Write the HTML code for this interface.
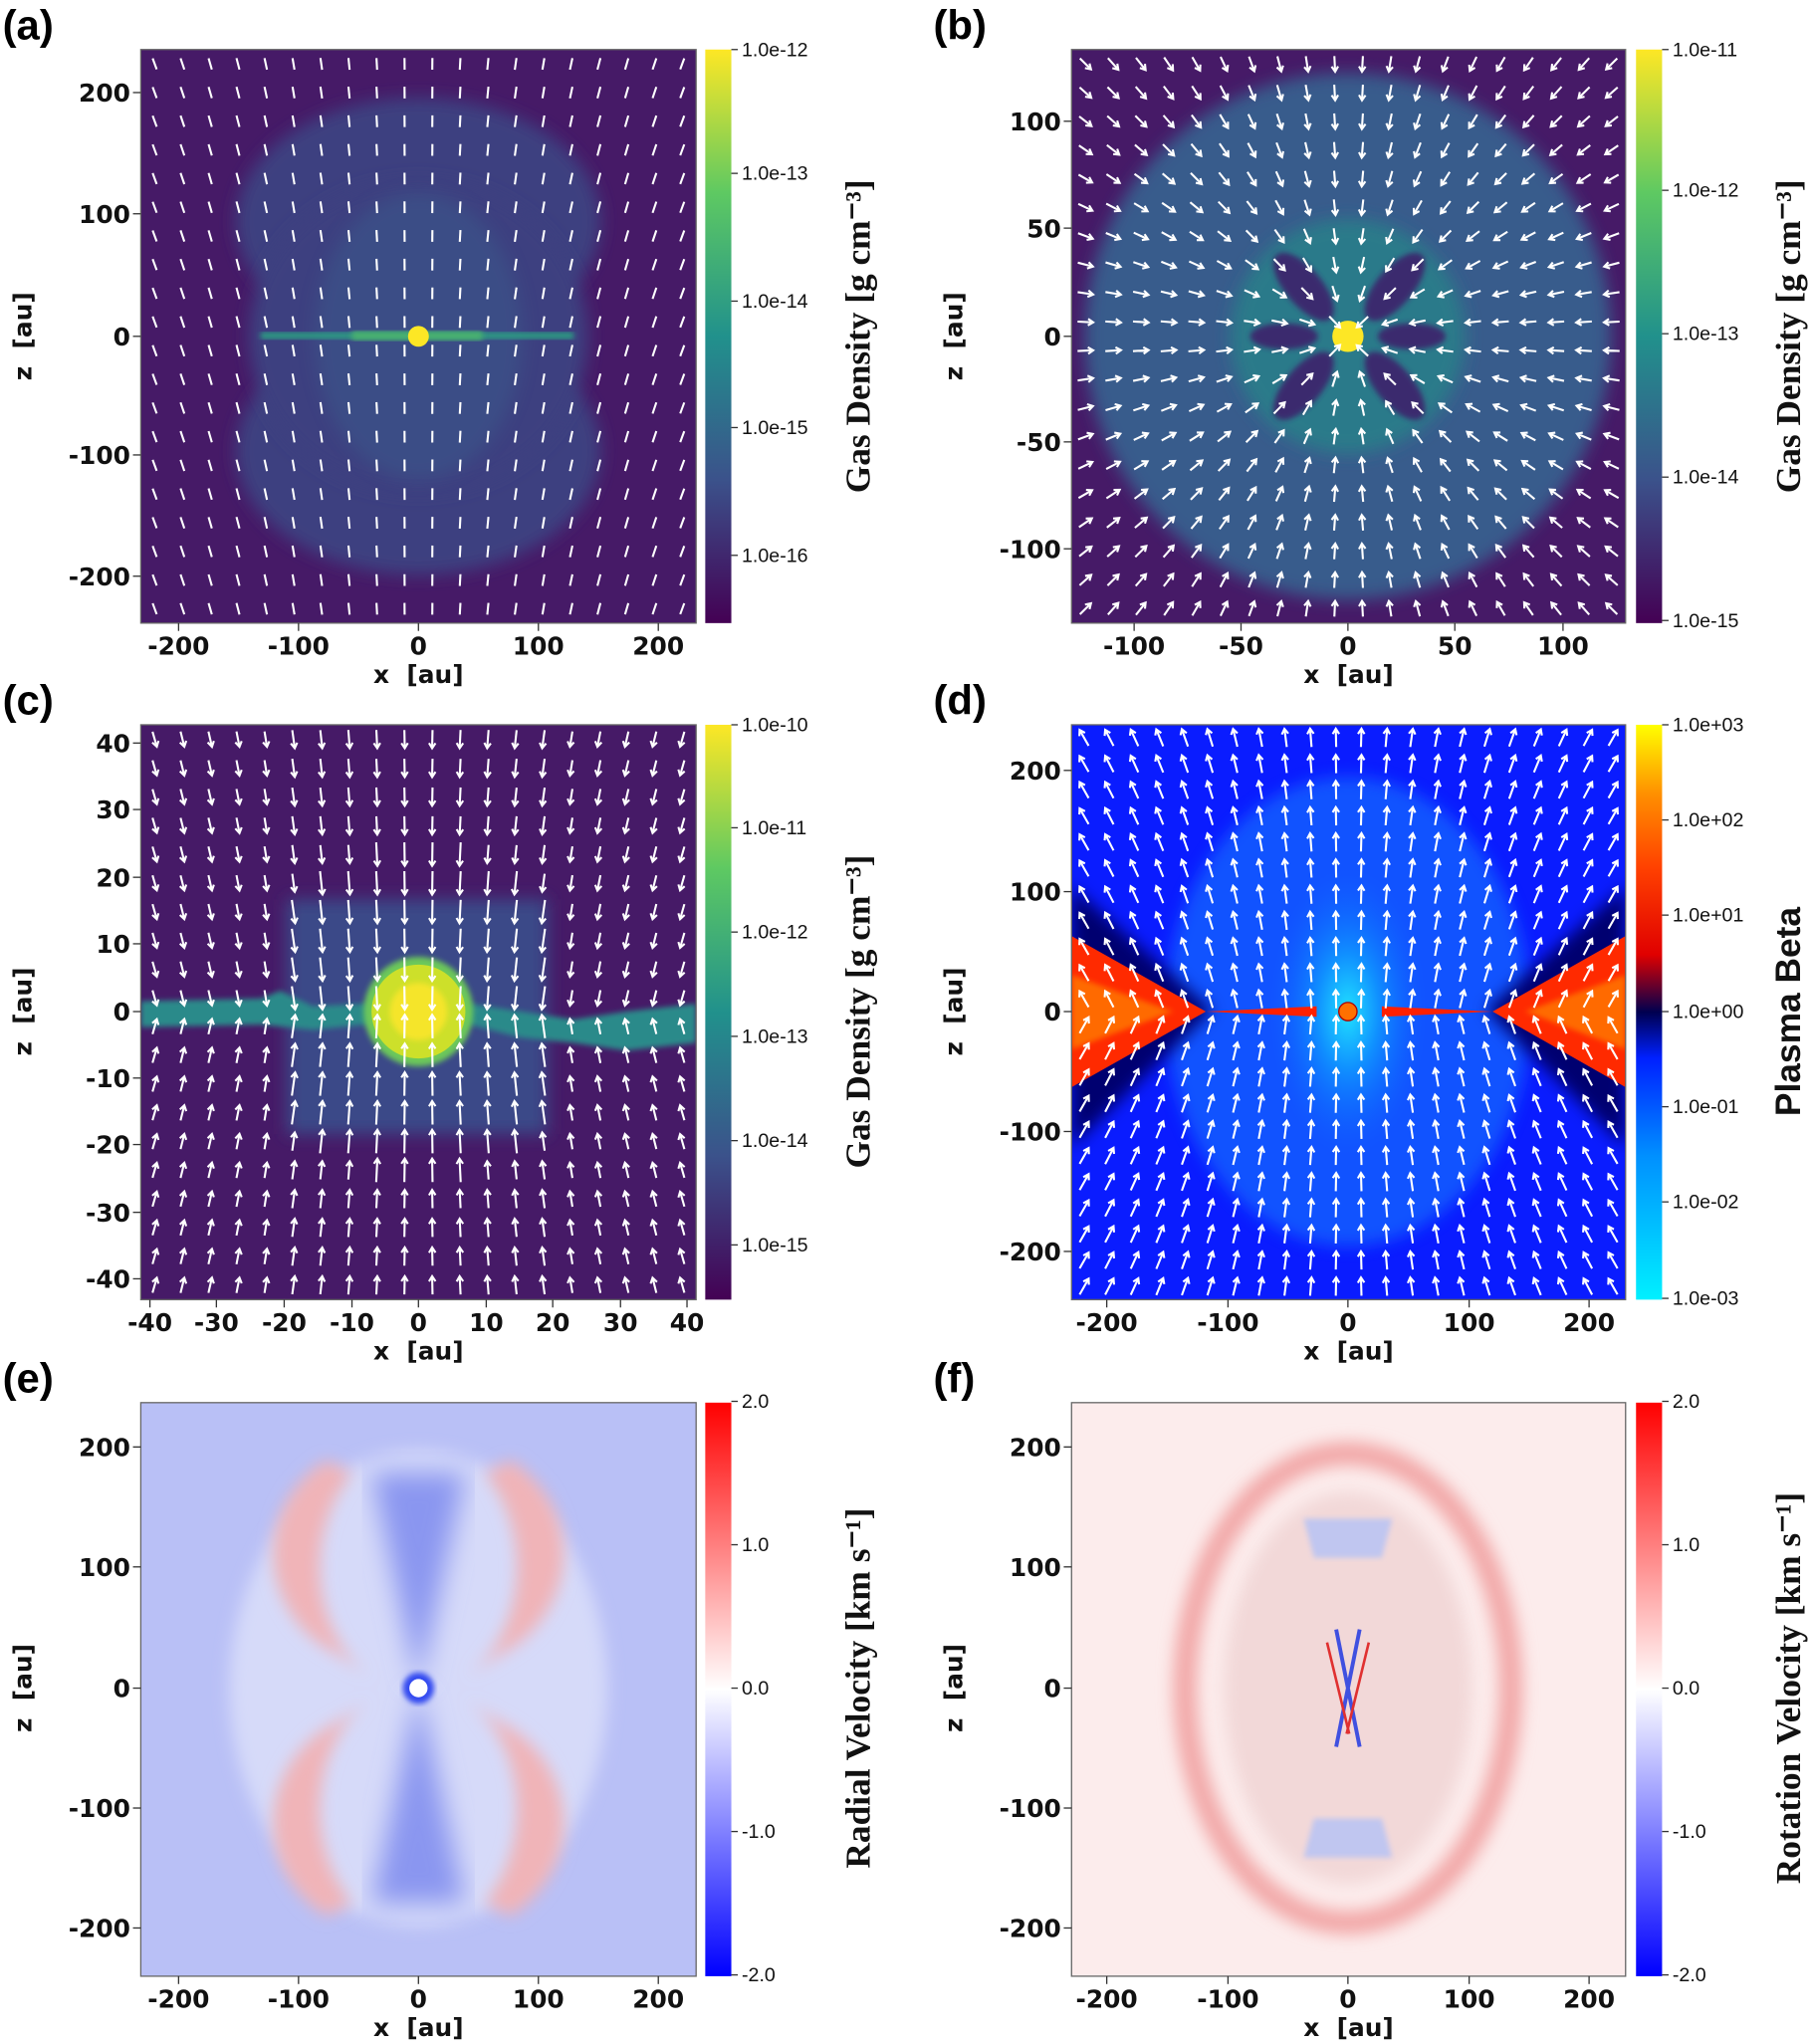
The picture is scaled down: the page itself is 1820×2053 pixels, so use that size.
<!DOCTYPE html>
<html><head><meta charset="utf-8"><style>
html,body{margin:0;padding:0;background:#fff;}
svg{display:block;}
.t{font-family:"DejaVu Sans","Liberation Sans",sans-serif;font-weight:bold;font-size:19px;fill:#111;white-space:pre;}
.cb{font-family:"Liberation Sans",sans-serif;font-size:15px;fill:#111;}
.cl{font-family:"Liberation Serif",serif;font-weight:bold;font-size:27px;fill:#111;}
.pl{font-family:"Liberation Sans",sans-serif;font-weight:bold;font-size:32px;fill:#000;}
</style></head><body>
<svg id="s" width="1820" height="2053" viewBox="0 0 1390 1568" preserveAspectRatio="none" xmlns="http://www.w3.org/2000/svg">
<defs>
<linearGradient id="vir" x1="0" y1="1" x2="0" y2="0">
<stop offset="0" stop-color="#440154"/><stop offset="0.25" stop-color="#3b528b"/><stop offset="0.5" stop-color="#21918c"/><stop offset="0.75" stop-color="#5ec962"/><stop offset="1" stop-color="#fde725"/></linearGradient>
<linearGradient id="beta" x1="0" y1="1" x2="0" y2="0">
<stop offset="0" stop-color="#00f0ff"/><stop offset="0.25" stop-color="#0090ff"/><stop offset="0.42" stop-color="#0020ff"/><stop offset="0.5" stop-color="#000050"/><stop offset="0.6" stop-color="#e00000"/><stop offset="0.75" stop-color="#ff4000"/><stop offset="0.88" stop-color="#ff9000"/><stop offset="1" stop-color="#ffff00"/></linearGradient>
<linearGradient id="bwr" x1="0" y1="1" x2="0" y2="0">
<stop offset="0" stop-color="#0000ff"/><stop offset="0.5" stop-color="#ffffff"/><stop offset="1" stop-color="#ff0000"/></linearGradient>
<radialGradient id="dcen" cx="0.5" cy="0.5" r="0.5"><stop offset="0" stop-color="#20e0ff"/><stop offset="0.4" stop-color="#1090ff"/><stop offset="1" stop-color="#1060ff" stop-opacity="0"/></radialGradient>
<filter id="bl"><feGaussianBlur stdDeviation="6"/></filter>
<filter id="bl2"><feGaussianBlur stdDeviation="2"/></filter>
<filter id="bl3"><feGaussianBlur stdDeviation="10"/></filter>
<clipPath id="ca"><rect x="108" y="38" width="426" height="440"/></clipPath>
<clipPath id="cbb"><rect x="822" y="38" width="425" height="440"/></clipPath>
<clipPath id="cc"><rect x="108" y="556" width="426" height="441"/></clipPath>
<clipPath id="cd"><rect x="822" y="556" width="425" height="441"/></clipPath>
<clipPath id="ce"><rect x="108" y="1076" width="426" height="440"/></clipPath>
<clipPath id="cf"><rect x="822" y="1076" width="425" height="440"/></clipPath>
</defs>

<!-- (a) -->
<g clip-path="url(#ca)">
<rect x="108" y="38" width="426" height="440" fill="#461a67"/>
<ellipse cx="321" cy="170" rx="140" ry="95" fill="#3e3f80" filter="url(#bl)"/>
<ellipse cx="321" cy="346" rx="140" ry="95" fill="#3e3f80" filter="url(#bl)"/>
<ellipse cx="321" cy="258" rx="130" ry="120" fill="#3e3f80" filter="url(#bl)"/>
<ellipse cx="321" cy="258" rx="80" ry="110" fill="#3a5a8c" opacity="0.5" filter="url(#bl)"/>
<rect x="200" y="255" width="240" height="5" fill="#2aa083" filter="url(#bl2)"/>
<rect x="270" y="254" width="100" height="7" fill="#4ab070" filter="url(#bl2)"/>
<ellipse cx="321" cy="258" rx="8" ry="8" fill="#fde725"/>
</g>
<g id="arrA"></g>
<rect x="108" y="38" width="426" height="440" fill="none" stroke="#666" stroke-width="1"/>

<!-- (b) -->
<g clip-path="url(#cbb)">
<rect x="822" y="38" width="425" height="440" fill="#461a67"/>
<circle cx="1034" cy="258" r="202" fill="#395b8c" filter="url(#bl)"/>
<circle cx="1034" cy="258" r="90" fill="#2a7a8a" filter="url(#bl)"/>
<g fill="#3a2a6e" filter="url(#bl2)">
<ellipse cx="1000" cy="220" rx="14" ry="32" transform="rotate(-40 1000 220)"/>
<ellipse cx="1070" cy="220" rx="14" ry="32" transform="rotate(40 1070 220)"/>
<ellipse cx="1000" cy="296" rx="14" ry="32" transform="rotate(40 1000 296)"/>
<ellipse cx="1070" cy="296" rx="14" ry="32" transform="rotate(-40 1070 296)"/>
<ellipse cx="985" cy="258" rx="26" ry="10"/>
<ellipse cx="1083" cy="258" rx="26" ry="10"/>
</g>
<circle cx="1034" cy="258" r="12" fill="#fde725"/>
</g>
<g id="arrB"></g>
<rect x="822" y="38" width="425" height="440" fill="none" stroke="#666"/>

<!-- (c) -->
<g clip-path="url(#cc)">
<rect x="108" y="556" width="426" height="441" fill="#461a67"/>
<rect x="220" y="690" width="200" height="180" fill="#3b4a88" filter="url(#bl)"/>
<path d="M108,768 L200,766 L215,760 L240,772 L280,770 L360,770 L400,776 L440,782 L480,776 L534,770 L534,800 L480,806 L440,800 L400,796 L360,786 L280,786 L240,790 L200,786 L108,788 Z" fill="#2b8a8a" filter="url(#bl2)"/>
<circle cx="321" cy="776" r="42" fill="#6cc85a" filter="url(#bl2)"/>
<circle cx="321" cy="776" r="36" fill="#cde02a"/>
<circle cx="321" cy="776" r="22" fill="#f5e52a" filter="url(#bl2)"/>
</g>
<g id="arrC"></g>
<rect x="108" y="556" width="426" height="441" fill="none" stroke="#666"/>

<!-- (d) -->
<g clip-path="url(#cd)">
<rect x="822" y="556" width="425" height="441" fill="#0a1cff"/>
<ellipse cx="1034" cy="776" rx="140" ry="180" fill="#1878ff" opacity="0.6" filter="url(#bl)"/>
<ellipse cx="1034" cy="776" rx="60" ry="110" fill="url(#dcen)"/>
<path d="M822,680 L930,775 L822,880 Z" fill="#000070" filter="url(#bl)"/>
<path d="M1247,680 L1140,775 L1247,880 Z" fill="#000070" filter="url(#bl)"/>
<path d="M822,718 L925,776 L822,834 Z" fill="#ff2a00"/>
<path d="M822,748 L900,776 L822,805 Z" fill="#ff6a00" filter="url(#bl2)"/>
<path d="M1247,718 L1145,776 L1247,834 Z" fill="#ff2a00"/>
<path d="M1247,748 L1170,776 L1247,805 Z" fill="#ff6a00" filter="url(#bl2)"/>
<path d="M925,776 L1010,772 L1010,780 Z" fill="#ff2000"/>
<path d="M1145,776 L1060,772 L1060,780 Z" fill="#ff2000"/>
<circle cx="1034" cy="776" r="7" fill="#ff7000" stroke="#a00" stroke-width="1"/>
</g>
<g id="arrD"></g>
<rect x="822" y="556" width="425" height="441" fill="none" stroke="#666"/>

<!-- (e) -->
<g clip-path="url(#ce)">
<rect x="108" y="1076" width="426" height="440" fill="#b9c0f6"/>
<ellipse cx="321" cy="1295" rx="145" ry="182" fill="#d6daf9" filter="url(#bl)"/>
<g fill="#f0b4b8" filter="url(#bl)">
<path d="M250,1120 C190,1160 200,1240 260,1270 L290,1290 C240,1260 230,1180 270,1130 Z"/>
<path d="M392,1120 C452,1160 442,1240 382,1270 L352,1290 C402,1260 412,1180 372,1130 Z"/>
<path d="M250,1470 C190,1430 200,1350 260,1320 L290,1300 C240,1330 230,1410 270,1460 Z"/>
<path d="M392,1470 C452,1430 442,1350 382,1320 L352,1300 C402,1330 412,1410 372,1460 Z"/>
</g>
<path d="M321,1295 L285,1130 L357,1130 Z" fill="#8a96f0" filter="url(#bl3)"/>
<path d="M321,1295 L285,1460 L357,1460 Z" fill="#8a96f0" filter="url(#bl3)"/>
<circle cx="321" cy="1295" r="12" fill="#3048f0" filter="url(#bl2)"/>
<circle cx="321" cy="1295" r="7" fill="#fff"/>
</g>
<rect x="108" y="1076" width="426" height="440" fill="none" stroke="#666"/>

<!-- (f) -->
<g clip-path="url(#cf)">
<rect x="822" y="1076" width="425" height="440" fill="#fcecec"/>
<ellipse cx="1034" cy="1295" rx="125" ry="180" fill="none" stroke="#f2a8a8" stroke-width="18" filter="url(#bl)"/>
<ellipse cx="1034" cy="1295" rx="95" ry="150" fill="#f2d8d8" filter="url(#bl)"/>
<path d="M1000,1165 L1068,1165 L1060,1195 L1008,1195 Z" fill="#c0c6f0" filter="url(#bl2)"/>
<path d="M1000,1425 L1068,1425 L1060,1395 L1008,1395 Z" fill="#c0c6f0" filter="url(#bl2)"/>
<path d="M1025,1250 L1043,1340 M1043,1250 L1025,1340" stroke="#4050e0" stroke-width="3"/>
<path d="M1018,1260 L1035,1330 M1050,1260 L1033,1330" stroke="#e03030" stroke-width="2"/>
</g>
<rect x="822" y="1076" width="425" height="440" fill="none" stroke="#666"/>

<!-- colorbars -->
<rect x="541" y="38" width="20" height="440" fill="url(#vir)"/>
<rect x="1255" y="38" width="20" height="440" fill="url(#vir)"/>
<rect x="541" y="556" width="20" height="441" fill="url(#vir)"/>
<rect x="1255" y="556" width="20" height="441" fill="url(#beta)"/>
<rect x="541" y="1076" width="20" height="440" fill="url(#bwr)"/>
<rect x="1255" y="1076" width="20" height="440" fill="url(#bwr)"/>

<g id="txt"></g>

<text class="pl" x="2" y="30">(a)</text>
<text class="pl" x="716" y="30">(b)</text>
<text class="pl" x="2" y="548">(c)</text>
<text class="pl" x="716" y="548">(d)</text>
<text class="pl" x="2" y="1068">(e)</text>
<text class="pl" x="716" y="1068">(f)</text>

<text class="cl" transform="translate(667,258) rotate(-90)" text-anchor="middle">Gas Density [g cm⁻³]</text>
<text class="cl" transform="translate(1381,258) rotate(-90)" text-anchor="middle">Gas Density [g cm⁻³]</text>
<text class="cl" transform="translate(667,776) rotate(-90)" text-anchor="middle">Gas Density [g cm⁻³]</text>
<text class="cl" transform="translate(1381,776) rotate(-90)" text-anchor="middle" style="font-family:'Liberation Sans',sans-serif">Plasma Beta</text>
<text class="cl" transform="translate(667,1295) rotate(-90)" text-anchor="middle">Radial Velocity [km s⁻¹]</text>
<text class="cl" transform="translate(1381,1295) rotate(-90)" text-anchor="middle">Rotation Velocity [km s⁻¹]</text>
</svg>
<script>
var NS="http://www.w3.org/2000/svg";
function el(p,n,a,t){var e=document.createElementNS(NS,n);for(var k in a)e.setAttribute(k,a[k]);if(t!=null)e.textContent=t;p.appendChild(e);return e;}
var T=document.getElementById('txt');
function arrows(id,x0,y0,w,h,n,cx,cy,fn){
  var g=document.getElementById(id);var d="";
  var sx=w/n, sy=h/n;
  for(var i=0;i<n;i++)for(var j=0;j<n;j++){
    var x=x0+sx*(i+0.5), y=y0+sy*(j+0.5);
    var v=fn((x-cx)/(w/2),(y-cy)/(h/2));
    var L=v[2]||9; var a=Math.atan2(v[1],v[0]);
    var ux=Math.cos(a),uy=Math.sin(a);
    var x1=x-ux*L/2,y1=y-uy*L/2,x2=x+ux*L/2,y2=y+uy*L/2;
    d+="M"+x1.toFixed(1)+","+y1.toFixed(1)+"L"+x2.toFixed(1)+","+y2.toFixed(1);
    if(L>10){var hx=x2-ux*4,hy=y2-uy*4;d+="M"+(hx-uy*2.5).toFixed(1)+","+(hy+ux*2.5).toFixed(1)+"L"+x2.toFixed(1)+","+y2.toFixed(1)+"L"+(hx+uy*2.5).toFixed(1)+","+(hy-ux*2.5).toFixed(1);}
  }
  el(g,'path',{d:d,stroke:'#fff','stroke-width':1.6,fill:'none'});
}
arrows('arrA',108,38,426,440,20,321,258,function(u,v){if(Math.abs(v)<0.05)return [-u,0,9];return [u*0.4*(v<0?-1:1),(v<0?1:-1),9];});
arrows('arrB',822,38,425,440,20,1034,258,function(u,v){return [-u,-v,12];});
arrows('arrC',108,556,426,441,20,321,776,function(u,v){var r=Math.hypot(u,v);if(Math.abs(u)<0.5)return [-u*0.3,v<0?1:-1,r<0.6?18:14];return [-u*0.3,v<0?1:-1,12];});
arrows('arrD',822,556,425,441,22,1034,776,function(u,v){if(v<0)return [u*0.6,-1,14];return [-u*0.6,-1,14];});
function tx(cls,x,y,s,anc){el(T,'text',{'class':cls,x:x,y:y,'text-anchor':anc||'middle'},s);}
function xaxis(y,pos,lab,x0,x1){for(var i=0;i<pos.length;i++){tx('t',pos[i],y+24,lab[i]);el(T,'line',{x1:pos[i],x2:pos[i],y1:y,y2:y+6,stroke:'#333'});}
 tx('t',(x0+x1)/2,y+46,'x  [au]');}
function yaxis(x,pos,lab,yc){for(var i=0;i<pos.length;i++){tx('t',x-8,pos[i]+7,lab[i],'end');el(T,'line',{x1:x,x2:x-6,y1:pos[i],y2:pos[i],stroke:'#333'});}
 el(T,'text',{'class':'t',transform:'translate('+(x-84)+','+yc+') rotate(-90)','text-anchor':'middle'},'z  [au]');}
function cbar(x,pos,lab){for(var i=0;i<pos.length;i++){tx('cb',x+28,pos[i]+5,lab[i],'start');el(T,'line',{x1:x+20,x2:x+25,y1:pos[i],y2:pos[i],stroke:'#333'});}}
var L5=['-200','-100','0','100','200'];
xaxis(478,[137,229,321,413,505],L5,108,534);
yaxis(108,[71,164,258,349,442],['200','100','0','-100','-200'],258);
xaxis(478,[870,952,1034,1116,1199],['-100','-50','0','50','100'],822,1247);
yaxis(822,[93,175,258,339,421],['100','50','0','-50','-100'],258);
xaxis(997,[115,166,218,270,321,373,424,476,527],['-40','-30','-20','-10','0','10','20','30','40'],108,534);
yaxis(108,[570,621,673,724,776,827,878,930,981],['40','30','20','10','0','-10','-20','-30','-40'],776);
xaxis(997,[849,942,1034,1127,1219],L5,822,1247);
yaxis(822,[591,684,776,868,960],['200','100','0','-100','-200'],776);
xaxis(1516,[137,229,321,413,505],L5,108,534);
yaxis(108,[1110,1202,1295,1387,1479],['200','100','0','-100','-200'],1295);
xaxis(1516,[849,942,1034,1127,1219],L5,822,1247);
yaxis(822,[1110,1202,1295,1387,1479],['200','100','0','-100','-200'],1295);
cbar(541,[38,133,231,328,426],['1.0e-12','1.0e-13','1.0e-14','1.0e-15','1.0e-16']);
cbar(1255,[38,146,256,366,476],['1.0e-11','1.0e-12','1.0e-13','1.0e-14','1.0e-15']);
cbar(541,[556,635,715,795,875,955],['1.0e-10','1.0e-11','1.0e-12','1.0e-13','1.0e-14','1.0e-15']);
cbar(1255,[556,629,702,776,849,922,996],['1.0e+03','1.0e+02','1.0e+01','1.0e+00','1.0e-01','1.0e-02','1.0e-03']);
cbar(541,[1075,1185,1295,1405,1515],['2.0','1.0','0.0','-1.0','-2.0']);
cbar(1255,[1075,1185,1295,1405,1515],['2.0','1.0','0.0','-1.0','-2.0']);
</script>
</body></html>
